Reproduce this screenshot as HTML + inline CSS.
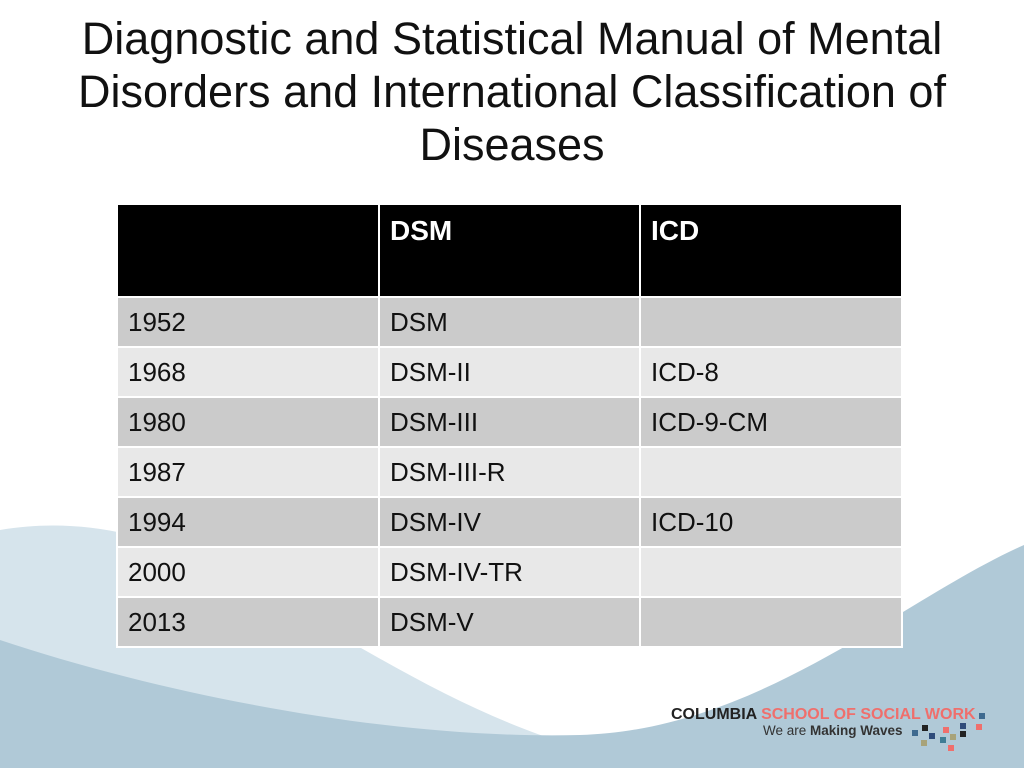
<!DOCTYPE html>
<html><head><meta charset="utf-8"><style>
body{margin:0;width:1024px;height:768px;position:relative;overflow:hidden;background:#fff;font-family:"Liberation Sans",sans-serif}
#bg{position:absolute;left:0;top:0}
h1{position:absolute;top:12px;left:0;width:1024px;margin:0;text-align:center;font-weight:normal;font-size:45px;line-height:53px;color:#111}
table{position:absolute;left:116px;top:203px;border-collapse:collapse;font-size:26px;color:#111}
td,th{border:2px solid #fff;padding:0 10px;text-align:left;vertical-align:top}
th{background:#000;color:#fff;height:93px;font-size:28px;padding-top:10px;box-sizing:border-box}
td{height:50px;box-sizing:border-box;padding-top:9px}
tr.o td{background:#cbcbcb}tr.e td{background:#e8e8e8}
.logo{position:absolute;left:671px;top:706px;font-size:16px;font-weight:bold;color:#222;white-space:nowrap}
.logo span{color:#ef6f6c}
.tag{position:absolute;left:763px;top:723px;font-size:13.5px;color:#333;white-space:nowrap}
.sq{position:absolute;width:6px;height:6px}
</style></head><body>
<svg id="bg" width="1024" height="768">
<path d="M0 530 C120 510 220 560 330 630 C450 700 560 760 700 768 L0 768 Z" fill="#d6e4ec"/>
<path d="M0 640 C150 690 380 740 580 735 C760 730 900 600 1024 545 L1024 768 L0 768 Z" fill="#b0c9d7"/>
</svg>
<h1>Diagnostic and Statistical Manual of Mental<br>Disorders and International Classification of<br>Diseases</h1>
<table>
<tr><th style="width:262px"></th><th style="width:261px">DSM</th><th style="width:262px">ICD</th></tr>
<tr class="o"><td>1952</td><td>DSM</td><td></td></tr>
<tr class="e"><td>1968</td><td>DSM-II</td><td>ICD-8</td></tr>
<tr class="o"><td>1980</td><td>DSM-III</td><td>ICD-9-CM</td></tr>
<tr class="e"><td>1987</td><td>DSM-III-R</td><td></td></tr>
<tr class="o"><td>1994</td><td>DSM-IV</td><td>ICD-10</td></tr>
<tr class="e"><td>2000</td><td>DSM-IV-TR</td><td></td></tr>
<tr class="o"><td>2013</td><td>DSM-V</td><td></td></tr>
</table>
<div class="logo">COLUMBIA <span>SCHOOL OF SOCIAL WORK</span></div>
<div class="tag">We are <b>Making Waves</b></div>
<div class="sq" style="left:979px;top:713px;background:#3e6a8f"></div>
<div class="sq" style="left:912px;top:730px;background:#3e6a8f"></div>
<div class="sq" style="left:922px;top:725px;background:#222"></div>
<div class="sq" style="left:929px;top:733px;background:#2f4c7a"></div>
<div class="sq" style="left:921px;top:740px;background:#a8a37a"></div>
<div class="sq" style="left:943px;top:727px;background:#ef6f6c"></div>
<div class="sq" style="left:940px;top:737px;background:#3e7d95"></div>
<div class="sq" style="left:950px;top:734px;background:#a8a37a"></div>
<div class="sq" style="left:960px;top:723px;background:#2f4c7a"></div>
<div class="sq" style="left:960px;top:731px;background:#222"></div>
<div class="sq" style="left:976px;top:724px;background:#ef6f6c"></div>
<div class="sq" style="left:948px;top:745px;background:#ef6f6c"></div>
</body></html>
